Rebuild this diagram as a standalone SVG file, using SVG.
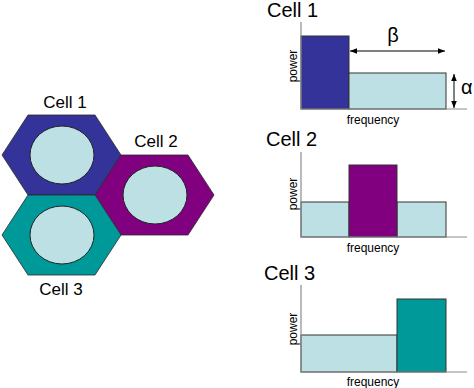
<svg xmlns="http://www.w3.org/2000/svg" width="474" height="388" viewBox="0 0 474 388">
<style>
text{font-family:"Liberation Sans",Arial,sans-serif;fill:#000}
.lbl{font-size:17px;text-anchor:middle}
.ttl{font-size:20px}
.sm{font-size:12px}
.hex{stroke:#2a2a2a;stroke-width:0.8}
.ell{fill:#bde0e5;stroke:#222;stroke-width:1}
.bar{stroke:#333;stroke-width:1}
.ax{stroke:#8c8c8c;stroke-width:1.2;fill:none}
.lt{fill:#bde0e5}
.arr{stroke:#000;stroke-width:1;marker-start:url(#ah);marker-end:url(#ah)}
</style>
<defs>
<marker id="ah" viewBox="0 0 10 10" refX="10" refY="5" markerWidth="7" markerHeight="7" orient="auto-start-reverse" markerUnits="userSpaceOnUse">
<path d="M0,1 L10,5 L0,9 z" fill="#000"/>
</marker>
</defs>

<g id="cell1">
<polygon class="hex" fill="#333399" points="2,155 28,115 95,115 121,155 95,195 28,195"/>
<ellipse class="ell" cx="62" cy="155" rx="32" ry="29"/>
<text class="lbl" x="65" y="108">Cell 1</text>
</g>
<g id="cell2">
<polygon class="hex" fill="#800080" points="95,195 121,155 188,155 214,195 188,235 121,235"/>
<ellipse class="ell" cx="155" cy="195" rx="32" ry="29"/>
<text class="lbl" x="156" y="147">Cell 2</text>
</g>
<g id="cell3">
<polygon class="hex" fill="#009999" points="2,235 28,195 95,195 121,235 95,275 28,275"/>
<ellipse class="ell" cx="62" cy="235" rx="32" ry="29"/>
<text class="lbl" x="61" y="295">Cell 3</text>
</g>

<g id="chart1">
<text class="ttl" x="267" y="17">Cell 1</text>
<rect class="bar" fill="#333399" x="301" y="36" width="48" height="73"/>
<rect class="bar lt" x="349" y="73" width="97" height="36"/>
<polyline class="ax" points="301,22 301,109 467,109"/>
<text class="sm" x="373" y="124" text-anchor="middle">frequency</text>
<text class="sm" transform="translate(297,66) rotate(-90)" text-anchor="middle">power</text>
<text class="ttl" x="393" y="42" text-anchor="middle">β</text>
<text class="ttl" x="461" y="94">α</text>
</g>
<g id="chart2">
<text class="ttl" x="266" y="146">Cell 2</text>
<rect class="bar lt" x="301" y="202" width="48" height="35"/>
<rect class="bar lt" x="397" y="202" width="49" height="35"/>
<rect class="bar" fill="#800080" x="349" y="165" width="48" height="72"/>
<polyline class="ax" points="301,152 301,237 467,237"/>
<text class="sm" x="373" y="252" text-anchor="middle">frequency</text>
<text class="sm" transform="translate(297,194) rotate(-90)" text-anchor="middle">power</text>
</g>
<g id="chart3">
<text class="ttl" x="264" y="280">Cell 3</text>
<rect class="bar lt" x="301" y="335" width="96" height="37"/>
<rect class="bar" fill="#009999" x="397" y="299" width="49" height="73"/>
<polyline class="ax" points="301,285 301,372 467,372"/>
<text class="sm" x="373" y="386" text-anchor="middle">frequency</text>
<text class="sm" transform="translate(297,329) rotate(-90)" text-anchor="middle">power</text>
</g>

<g id="connectors">
<line class="arr" x1="350" y1="51" x2="445" y2="51"/>
<line class="arr" x1="454" y1="74" x2="454" y2="108"/>
</g>
</svg>
